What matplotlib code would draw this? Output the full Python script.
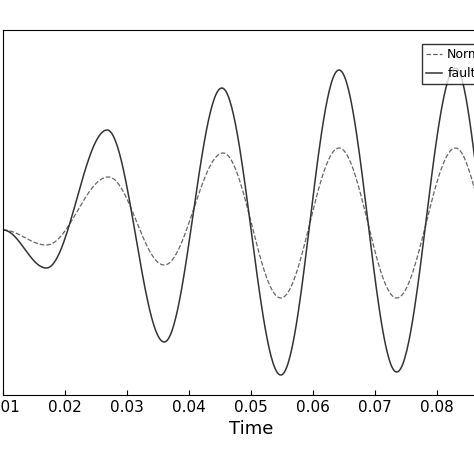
import numpy as np
import matplotlib
matplotlib.use("Agg")
import matplotlib.pyplot as plt

# extrema (time, amplitude)
normal_t = [0.010, 0.0170, 0.0270, 0.0360, 0.0455, 0.0548, 0.0642, 0.0735, 0.0830, 0.0900]
normal_y = [0, -15, 53, -35, 77, -68, 82, -68, 82, -20]
fault_t = [0.010, 0.0170, 0.0268, 0.0360, 0.0453, 0.0548, 0.0642, 0.0735, 0.0830, 0.0900]
fault_y = [0, -38, 100, -112, 142, -145, 160, -142, 162, -60]
xticks = [0.01, 0.02, 0.03, 0.04, 0.05, 0.06, 0.07, 0.08, 0.09]
xtick_labels = ["0.01", "0.02", "0.03", "0.04", "0.05", "0.06", "0.07", "0.08", "0.09"]

def halfcos(ts, ys, n=60):
    X, Y = [], []
    for i in range(len(ts) - 1):
        s = np.linspace(0, 1, n, endpoint=False)
        X.append(ts[i] + (ts[i+1] - ts[i]) * s)
        Y.append(ys[i] + (ys[i+1] - ys[i]) * (1 - np.cos(np.pi * s)) / 2)
    X.append([ts[-1]]); Y.append([ys[-1]])
    return np.concatenate(X), np.concatenate(Y)

fig = plt.figure(figsize=(4.74, 4.74), dpi=100)
ax = fig.add_axes([3/474, 1-395/474, 496/474, 365/474])
x1, y1 = halfcos(normal_t, normal_y)
x2, y2 = halfcos(fault_t, fault_y)
ax.plot(x1, y1, ls='--', color='#666666', lw=0.9, label='Normal')
ax.plot(x2, y2, ls='-', color='#333333', lw=1.1, label='fault')
ax.set_xlim(0.01, 0.09)
ax.set_ylim(-165, 200)
ax.set_xticks(xticks)
ax.set_xticklabels(xtick_labels, fontsize=11)
ax.set_yticks([])
ax.tick_params(direction='in')
ax.set_xlabel("Time", fontsize=13)
fig.legend(loc='upper left', bbox_to_anchor=(416/474, 1-38/474), fontsize=9,
           frameon=True, fancybox=False, edgecolor='black', handlelength=1.3,
           handletextpad=0.4, borderpad=0.3)
fig.savefig("out.png", dpi=100)
